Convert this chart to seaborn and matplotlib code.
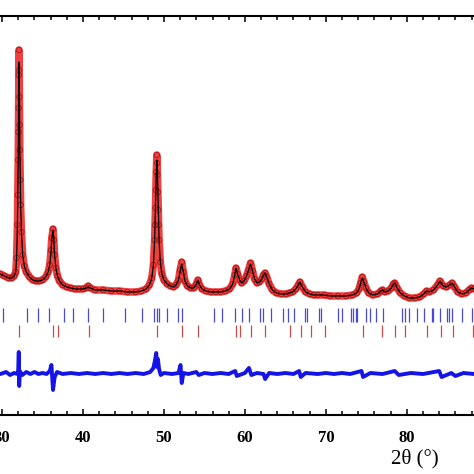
import matplotlib
matplotlib.use("Agg")
import matplotlib.pyplot as plt
import seaborn as sns
import pandas as pd
from matplotlib.ticker import MultipleLocator

# ---- observed / calculated profile (2theta in degrees, intensity in a.u.) ----
two_theta = [29.8, 30.3, 30.8, 31.2, 31.5, 31.7, 31.8, 31.9, 31.95, 32.0, 32.025, 32.05, 32.075,
             32.1, 32.125, 32.15, 32.175, 32.2, 32.25, 32.3, 32.4, 32.55, 32.75, 33.0, 33.4,
             33.8, 34.2, 34.6, 35.0, 35.4, 35.7, 35.9, 36.05, 36.15, 36.3, 36.4, 36.5, 36.65,
             36.85, 37.1, 37.5, 38.0, 38.5, 39.0, 39.5, 40.0, 40.4, 40.65, 40.9, 41.5, 42.5,
             43.5, 44.5, 45.5, 46.5, 47.2, 47.8, 48.2, 48.5, 48.7, 48.85, 48.9, 48.95, 49.0,
             49.05, 49.12, 49.16, 49.2, 49.25, 49.3, 49.35, 49.4, 49.55, 49.75, 50.0, 50.4,
             50.8, 51.2, 51.5, 51.8, 52.0, 52.2, 52.4, 52.6, 52.9, 53.3, 53.7, 54.0, 54.2,
             54.4, 54.7, 55.2, 55.8, 56.4, 57.0, 57.6, 58.1, 58.5, 58.75, 58.9, 59.1, 59.35,
             59.6, 59.9, 60.2, 60.45, 60.7, 60.95, 61.2, 61.5, 61.8, 62.1, 62.3, 62.5, 62.7,
             63.0, 63.4, 63.9, 64.5, 65.1, 65.5, 65.9, 66.3, 66.6, 66.8, 67.1, 67.5, 68.0,
             68.5, 69.0, 69.8, 70.5, 71.5, 72.5, 73.3, 73.8, 74.1, 74.3, 74.5, 74.7, 74.95,
             75.3, 75.8, 76.4, 76.8, 77.0, 77.3, 77.7, 78.1, 78.35, 78.5, 78.8, 79.2, 79.7,
             80.3, 81.0, 81.6, 82.1, 82.45, 82.8, 83.3, 83.8, 84.1, 84.5, 84.9, 85.3, 85.6,
             85.9, 86.3, 86.8, 87.3, 87.7, 88.0, 88.3]

y_obs = [141, 139, 137, 137, 139, 143, 157, 190, 220, 255, 283, 307, 340,
         365, 345, 318, 290, 265, 235, 210, 183, 160, 149, 143, 138,
         135, 134, 134, 135, 138, 143, 150, 165, 177, 186, 175, 160, 147,
         139, 134, 130, 128, 127, 126, 126, 126, 127, 129, 127, 125, 125,
         124, 124, 123, 123, 124, 126, 130, 137, 150, 175, 190, 207, 225,
         243, 260, 252, 240, 223, 205, 190, 175, 153, 141, 135, 131,
         129, 128, 130, 135, 145, 153, 143, 134, 129, 127, 127, 131, 135,
         130, 126, 124, 123, 123, 123, 124, 126, 131, 140, 147, 141, 135,
         132, 134, 139, 145, 152, 144, 136, 132, 133, 136, 140, 142, 138,
         131, 125, 122, 121, 121, 122, 123, 126, 130, 133, 128, 123, 121,
         120, 120, 120, 119, 119, 119, 120, 122, 126, 132, 138, 133, 127,
         122, 120, 121, 124, 125, 123, 124, 127, 131, 132, 127, 122, 119,
         117, 117, 118, 121, 124, 123, 125, 130, 134, 129, 128, 130, 132,
         128, 123, 121, 122, 125, 127, 126]

y_calc = [141, 139, 137, 137, 139, 143, 157, 190, 220, 255, 280, 305, 335,
          353, 340, 320, 290, 265, 235, 210, 183, 160, 149, 143, 138,
          135, 134, 134, 135, 138, 143, 150, 163, 176, 185, 175, 160, 147,
          139, 134, 130, 128, 127, 126, 126, 126, 127, 128, 127, 125, 125,
          124, 124, 123, 123, 124, 126, 130, 137, 150, 175, 190, 205, 223,
          240, 255, 250, 240, 223, 205, 190, 175, 153, 141, 135, 131,
          129, 128, 130, 135, 144, 151, 143, 134, 129, 127, 127, 131, 135,
          130, 126, 124, 123, 123, 123, 124, 126, 131, 140, 147, 141, 135,
          132, 134, 139, 145, 151, 144, 136, 132, 133, 136, 140, 142, 138,
          131, 125, 122, 121, 121, 122, 123, 126, 130, 133, 128, 123, 121,
          120, 120, 120, 119, 119, 119, 120, 122, 126, 132, 137, 133, 127,
          122, 120, 121, 124, 125, 123, 124, 127, 131, 132, 127, 122, 119,
          117, 117, 118, 121, 124, 123, 125, 130, 134, 129, 128, 130, 132,
          128, 123, 121, 122, 125, 127, 126]

# ---- difference curve ----
diff_theta = [29.8, 30.5, 31.0, 31.5, 31.9, 32.0, 32.07, 32.12, 32.2, 32.5, 33.0, 33.5,
              34.0, 34.5, 35.0, 35.5, 35.9, 36.1, 36.3, 36.5, 36.8, 37.5, 38.5, 39.5,
              40.5, 41.5, 42.5, 43.5, 44.5, 45.5, 46.5, 47.5, 48.3, 48.7, 48.9, 49.05,
              49.15, 49.25, 49.4, 49.6, 50.0, 51.0, 51.8, 52.05, 52.2, 52.4, 53.0, 54.0,
              54.3, 55.0, 56.0, 57.0, 58.0, 58.8, 59.0, 60.0, 60.5, 60.8, 61.5, 62.3,
              62.5, 63.0, 64.0, 65.0, 66.0, 66.7, 66.9, 67.5, 69.0, 70.0, 71.0, 72.0,
              73.0, 74.4, 74.6, 75.5, 77.0, 78.5, 79.0, 80.5, 82.0, 84.0, 84.3, 85.5,
              86.0, 87.0, 88.3]
y_diff = [41, 43, 40, 42, 41, 45, 63, 29, 44, 40, 43, 41,
          43, 41, 42, 41, 44, 50, 25, 38, 43, 41, 42, 41,
          42, 41, 42, 41, 42, 41, 42, 41, 43, 47, 55, 62,
          48, 56, 46, 40, 42, 41, 42, 50, 32, 42, 41, 43,
          40, 42, 41, 42, 41, 44, 39, 42, 47, 40, 42, 41,
          36, 42, 41, 42, 41, 44, 38, 42, 41, 42, 41, 42,
          41, 44, 38, 42, 41, 44, 40, 42, 41, 44, 38, 42,
          39, 42, 41]

# ---- Bragg reflection markers ----
phase1_ticks = [30.12, 33.09, 34.44, 35.80, 37.65, 38.77, 40.62, 42.47, 45.19, 47.28, 48.77,
                49.14, 49.38, 50.37, 51.73, 52.22, 56.17, 57.16, 58.77, 59.63, 60.49, 61.85,
                62.22, 63.21, 64.69, 65.31, 66.05, 67.41, 67.65, 69.14, 69.38, 71.48, 71.98,
                73.09, 73.33, 73.70, 73.83, 74.94, 75.43, 76.17, 77.04, 79.38, 79.75, 80.25,
                81.23, 82.10, 83.09, 83.21, 84.07, 84.94, 85.19, 85.56, 86.79, 88.02]
phase2_ticks = [32.10, 36.30, 36.91, 40.74, 49.14, 52.22, 54.20, 58.89, 59.38, 60.74, 62.47,
                65.56, 66.91, 68.15, 69.88, 74.57, 76.91, 78.52, 79.75, 82.47, 84.20, 85.68,
                88.15]

xtick_values = [30, 40, 50, 60, 70, 80, 90]
xtick_labels = ["30", "40", "50", "60", "70", "80", "90"]
x_label = "2\u03b8 (\u00b0)"

sns.set_theme(style="ticks")
plt.rcParams['font.family'] = ['Liberation Serif', 'DejaVu Serif']

fig = plt.figure(figsize=(4.74, 4.74), dpi=100)
fig.patch.set_facecolor("white")
ax = fig.add_axes([0.0, 59 / 474, 1.0, 399 / 474])
ax.set_facecolor("white")

prof = pd.DataFrame({"tt": two_theta, "obs": y_obs, "calc": y_calc})
dif = pd.DataFrame({"tt": diff_theta, "diff": y_diff})

# observed band + circles
sns.lineplot(data=prof, x="tt", y="obs", ax=ax, color="#ee2b2b", lw=5.4,
             sort=False, estimator=None, alpha=0.9)
sns.scatterplot(data=prof, x="tt", y="obs", ax=ax, marker="o", s=15,
                facecolor="none", edgecolor="#b41a1a", linewidth=0.7, zorder=3)
# calculated
sns.lineplot(data=prof, x="tt", y="calc", ax=ax, color="black", lw=0.9,
             sort=False, estimator=None, zorder=4)
# difference
sns.lineplot(data=dif, x="tt", y="diff", ax=ax, color="#1414e6", lw=2.8,
             sort=False, estimator=None)

# reflection markers
ax.vlines(phase1_ticks, 93, 107, color="#4a4ad8", lw=0.9)
ax.vlines(phase2_ticks, 78, 90, color="#c84a4a", lw=0.9)

ax.set_xlabel("")
ax.set_ylabel("")
ax.set_yticks([])
ax.set_xticks(xtick_values)
ax.set_xticklabels(xtick_labels, fontsize=12, fontweight="bold")
ax.xaxis.set_minor_locator(MultipleLocator(2))
ax.set_xlim(29.75, 88.3)
ax.set_ylim(0, 399)
ax.tick_params(axis="x", which="both", direction="in", top=True, bottom=True,
               color="black", width=1.1, pad=11, labelcolor="black")
ax.tick_params(axis="x", which="major", length=4.5)
ax.tick_params(axis="x", which="minor", length=2.6)
for side in ("left", "right"):
    ax.spines[side].set_visible(False)
for side in ("top", "bottom"):
    ax.spines[side].set_color("black")
    ax.spines[side].set_linewidth(1.5)

fig.text(415 / 474, 1 - 459 / 474, x_label, ha="center", va="center", fontsize=15,
         color="black")

fig.savefig("out.png", dpi=100, facecolor="white")
